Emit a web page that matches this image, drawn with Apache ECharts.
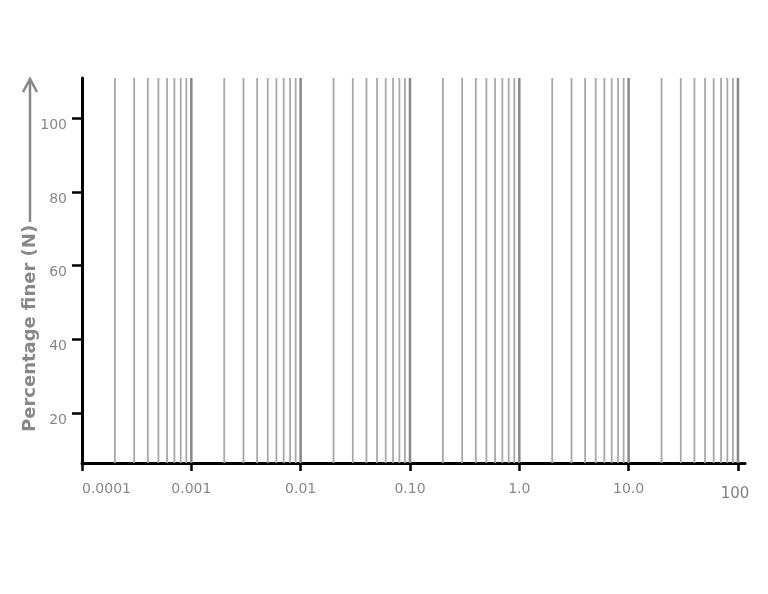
<!DOCTYPE html>
<html>
<head>
<meta charset="utf-8">
<script src="https://cdn.jsdelivr.net/npm/echarts@6.0.0/dist/echarts.min.js"></script>
<style>html,body{margin:0;padding:0;background:#fff;}#c{width:768px;height:594px;}</style>
</head>
<body>
<div id="c"></div>
<script>
const xTickValues = [0.0001, 0.001, 0.01, 0.1, 1, 10, 100];
const xTickLabels = ['0.0001', '0.001', '0.01', '0.10', '1.0', '10.0', '100'];
const yTickValues = [20, 40, 60, 80, 100];
const majorLines = [0.001, 0.01, 0.1, 1, 10, 100];
const minorLines = [
  0.0002, 0.0003, 0.0004, 0.0005, 0.0006, 0.0007, 0.0008, 0.0009,
  0.002, 0.003, 0.004, 0.005, 0.006, 0.007, 0.008, 0.009,
  0.02, 0.03, 0.04, 0.05, 0.06, 0.07, 0.08, 0.09,
  0.2, 0.3, 0.4, 0.5, 0.6, 0.7, 0.8, 0.9,
  2, 3, 4, 5, 6, 7, 8, 9,
  20, 30, 40, 50, 60, 70, 80, 90
];
const yAxisName = 'Percentage finer (N)';
const X_MIN = 0.0001, X_MAX = 116, Y_MIN = 6.4, Y_MAX = 111;

const chart = echarts.init(document.getElementById('c'));
const font = 'DejaVu Sans';

function lineSeries(values, color, width, z) {
  return {
    type: 'custom',
    silent: true,
    z: z,
    data: values.map(v => [v]),
    encode: { x: 0 },
    renderItem: function (params, api) {
      const v = api.value(0);
      const p1 = api.coord([v, Y_MIN]);
      const p2 = api.coord([v, Y_MAX]);
      return {
        type: 'line',
        shape: { x1: p1[0], y1: p1[1], x2: p2[0], y2: p2[1] },
        style: { stroke: color, lineWidth: width }
      };
    }
  };
}

chart.setOption({
  animation: false,
  backgroundColor: '#fff',
  grid: { left: 82, right: 23, top: 78, bottom: 131, outerBoundsMode: 'none' },
  xAxis: {
    type: 'log', logBase: 10, min: X_MIN, max: X_MAX,
    axisLine: { show: true, lineStyle: { color: '#000', width: 3 } },
    axisTick: { show: true, customValues: xTickValues, length: 8, lineStyle: { color: '#000', width: 2.5 } },
    axisLabel: {
      customValues: xTickValues,
      alignMinLabel: 'left',
      margin: 19, color: '#888', fontSize: 14, fontFamily: font,
      formatter: function (v) {
        const i = xTickValues.findIndex(t => Math.abs(Math.log10(t) - Math.log10(v)) < 1e-6);
        if (i < 0) return '';
        return i === xTickValues.length - 1 ? '{big|' + xTickLabels[i] + '}' : xTickLabels[i];
      },
      rich: { big: { fontSize: 15, color: '#808080', fontFamily: font, padding: [5, 6, 0, 0] } }
    },
    splitLine: { show: false },
    minorTick: { show: false }
  },
  yAxis: {
    type: 'value', min: Y_MIN, max: Y_MAX,
    axisLine: { show: true, lineStyle: { color: '#000', width: 3 } },
    axisTick: { show: true, customValues: yTickValues, length: 10, lineStyle: { color: '#000', width: 2.5 } },
    axisLabel: { customValues: yTickValues, margin: 15, color: '#888', fontSize: 14, fontFamily: font, verticalAlign: 'top' },
    splitLine: { show: false }
  },
  graphic: [
    {
      type: 'text', x: 30, y: 432, rotation: Math.PI / 2,
      style: { text: yAxisName, fill: '#888', font: 'bold 18px "DejaVu Sans"', textAlign: 'left', textVerticalAlign: 'middle' }
    },
    {
      type: 'line', shape: { x1: 30, y1: 222, x2: 30, y2: 79 },
      style: { stroke: '#888', lineWidth: 2.5 }
    },
    {
      type: 'polyline', shape: { points: [[23, 92], [30, 79], [37, 92]] },
      style: { stroke: '#888', lineWidth: 2.5, fill: null }
    }
  ],
  series: [
    lineSeries(minorLines, '#a8a8a8', 1.8, 1),
    lineSeries(majorLines, '#888', 2.5, 2)
  ]
});
</script>
</body>
</html>
